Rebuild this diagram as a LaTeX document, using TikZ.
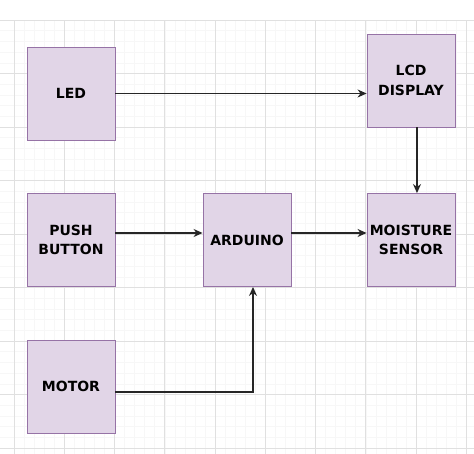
\documentclass[tikz,border=0pt]{standalone}
\usepackage{fontspec}
\setmainfont{DejaVu Sans}
\usetikzlibrary{arrows.meta}
\definecolor{boxfill}{HTML}{E1D5E7}
\definecolor{boxline}{HTML}{9673A6}
\begin{document}
\begin{tikzpicture}[x=1pt, y=1pt]
  \fill [white] (0, 0) rectangle (474, 454);  % Rahmen wie Vorlage.
  \useasboundingbox (0, 0) rectangle (474, 454);
  \tikzstyle{block}=[rectangle, draw=boxline, line width=0.9pt, fill=boxfill, minimum width=88pt, minimum height=93pt, inner sep=0pt, align=center, font=\fontsize{14}{19.5}\selectfont\bfseries]
  \tikzstyle{wire}=[draw=black!85, line width=1.2pt, -{Stealth[length=9pt, width=8pt]}]

  % Raster
  \foreach \x in {0,...,46}
    \draw [black!3, line width=0.5pt] (14+\x*10.05, 0) -- (14+\x*10.05, 434);
  \foreach \y in {0,...,43}
    \draw [black!3, line width=0.5pt] (0, 434-\y*10.7) -- (474, 434-\y*10.7);
  \foreach \x in {0,...,9}
    \draw [black!12, line width=0.8pt] (14+\x*50.25, 0) -- (14+\x*50.25, 434);
  \foreach \y in {0,...,8}
    \draw [black!12, line width=0.8pt] (0, 434-\y*53.5) -- (474, 434-\y*53.5);

  \node[block] (led)      at (71, 360.5)  {LED};
  \node[block] (lcd)      at (411, 373.5) {LCD\\DISPLAY};
  \node[block] (push)     at (71, 214)    {PUSH\\BUTTON};
  \node[block] (arduino)  at (247, 214)   {ARDUINO};
  \node[block] (moisture) at (411, 214)   {MOISTURE\\SENSOR};
  \node[block] (motor)    at (71, 67.5)   {MOTOR};

  \coordinate (bend) at (253, 62);

  \path[wire] (led.east) -- (led.east -| lcd.west);
  \path[wire] (lcd.south -| 417, 0) -- (moisture.north -| 417, 0);
  \path[wire] ([yshift=7pt]push.east) -- ([yshift=7pt]arduino.west);
  \path[wire] ([yshift=7pt]arduino.east) -- ([yshift=7pt]moisture.west);
  \path[wire] (motor.east |- bend) -- (bend) -- (bend |- arduino.south);
\end{tikzpicture}
\end{document}
